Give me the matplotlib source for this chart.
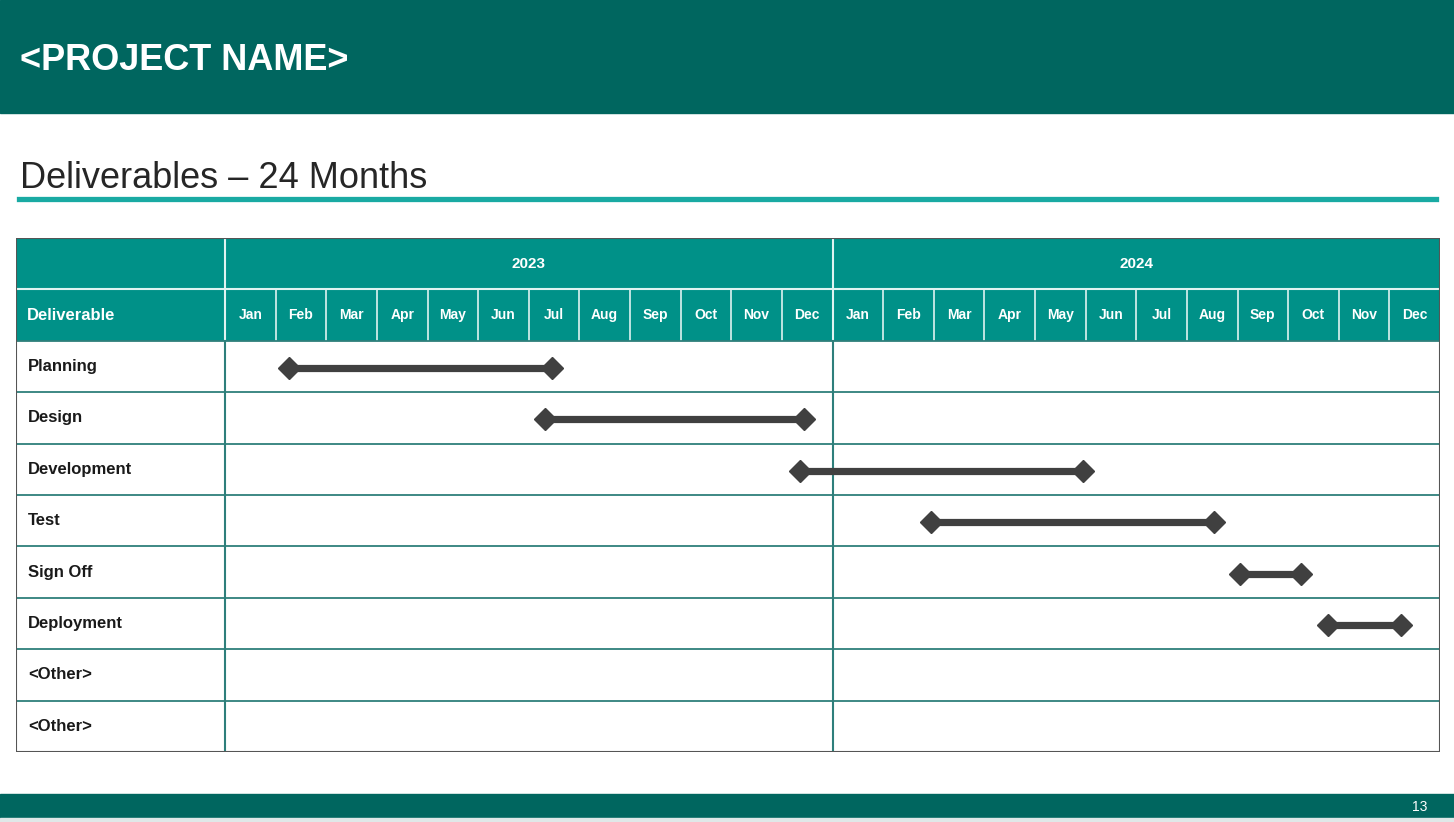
import matplotlib.pyplot as plt
from matplotlib.patches import Rectangle
from matplotlib.lines import Line2D

plt.rcParams['font.family'] = ['Liberation Sans', 'DejaVu Sans']

# data
tasks = ["Planning", "Design", "Development", "Test", "Sign Off", "Deployment", "<Other>", "<Other>"]
starts = [1.26, 6.32, 11.36, 13.95, 20.04, 21.78]   # months from Jan 2023
ends = [6.46, 11.44, 16.94, 19.53, 21.25, 23.22]
years = ["2023", "2024"]
months = ["Jan", "Feb", "Mar", "Apr", "May", "Jun", "Jul", "Aug", "Sep", "Oct", "Nov", "Dec"]

dark = "#00665F"
head = "#009188"
accent = "#19AAA3"
grid = "#2E7F7B"
bar = "#404040"

W, H = 1454, 822
fig = plt.figure(figsize=(W / 100, H / 100), dpi=100)

# slide decoration
fig.add_artist(Rectangle((0, 1 - 113 / H), 1, 113 / H, transform=fig.transFigure, color=dark, zorder=0))
fig.add_artist(Rectangle((0, 1 - 818 / H), 1, 24 / H, transform=fig.transFigure, color=dark, zorder=0))
fig.add_artist(Rectangle((0, 0), 1, 4 / H, transform=fig.transFigure, color="#dfe8e8", zorder=0))
fig.text(20 / W, 1 - 60 / H, "<PROJECT NAME>", color="white", fontsize=26, fontweight="bold", va="center")
fig.text(20 / W, 1 - 178 / H, "Deliverables \u2013 24 Months", color="#262626", fontsize=26, va="center")
fig.add_artist(Line2D([19 / W, 1436 / W], [1 - 199.5 / H] * 2, transform=fig.transFigure, color=accent, lw=3.8))
fig.text(1420 / W, 1 - 807 / H, "13", color="white", fontsize=10, ha="center", va="center")

# table axes
ax = fig.add_axes([16 / W, 1 - 752 / H, (1440 - 16) / W, (752 - 238) / H])
n_months = 24
lab_w = (225 - 16) / ((1440 - 225) / n_months)
n_rows = len(tasks)
ax.set_xlim(-lab_w, n_months)
ax.set_ylim(n_rows, -2)
ax.axis("off")

# header
ax.add_patch(Rectangle((-lab_w, -2), lab_w + n_months, 2, color=head, lw=0))
ax.plot([-lab_w, n_months], [-1, -1], color="#dff3f1", lw=1.5)
ax.plot([0, 0], [-2, 0], color="#dff3f1", lw=1.5)
ax.plot([12, 12], [-2, 0], color="#dff3f1", lw=1.5)
for i in range(1, n_months):
    if i != 12:
        ax.plot([i, i], [-1, 0], color="#dff3f1", lw=1.2)
for k, yr in enumerate(years):
    ax.text(k * 12 + 6, -1.5, yr, color="white", fontsize=11, fontweight="bold", ha="center", va="center")
for i in range(n_months):
    ax.text(i + 0.5, -0.5, months[i % 12], color="white", fontsize=10, fontweight="bold", ha="center", va="center")
ax.text(-lab_w + 0.22, -0.5, "Deliverable", color="white", fontsize=12, fontweight="bold", va="center")

# body grid
for r in range(0, n_rows):
    ax.plot([-lab_w, n_months], [r, r], color=grid, lw=1.3)
ax.plot([0, 0], [0, n_rows], color=grid, lw=1.5)
ax.plot([12, 12], [0, n_rows], color=grid, lw=1.5)
ax.add_patch(Rectangle((-lab_w, -2), lab_w + n_months, n_rows + 2, fill=False, ec="#555555", lw=1.5, zorder=5))

for r, t in enumerate(tasks):
    ax.text(-lab_w + 0.24, r + 0.5, t, color="#1a1a1a", fontsize=12, fontweight="bold", va="center")

# deliverable bars
for r, (s, e) in enumerate(zip(starts, ends)):
    ax.plot([s, e], [r + 0.53, r + 0.53], color=bar, lw=5.2, solid_capstyle="butt",
            marker="D", markersize=11.5, markerfacecolor=bar, markeredgecolor=bar, zorder=6)

fig.savefig("out.png", dpi=100)
